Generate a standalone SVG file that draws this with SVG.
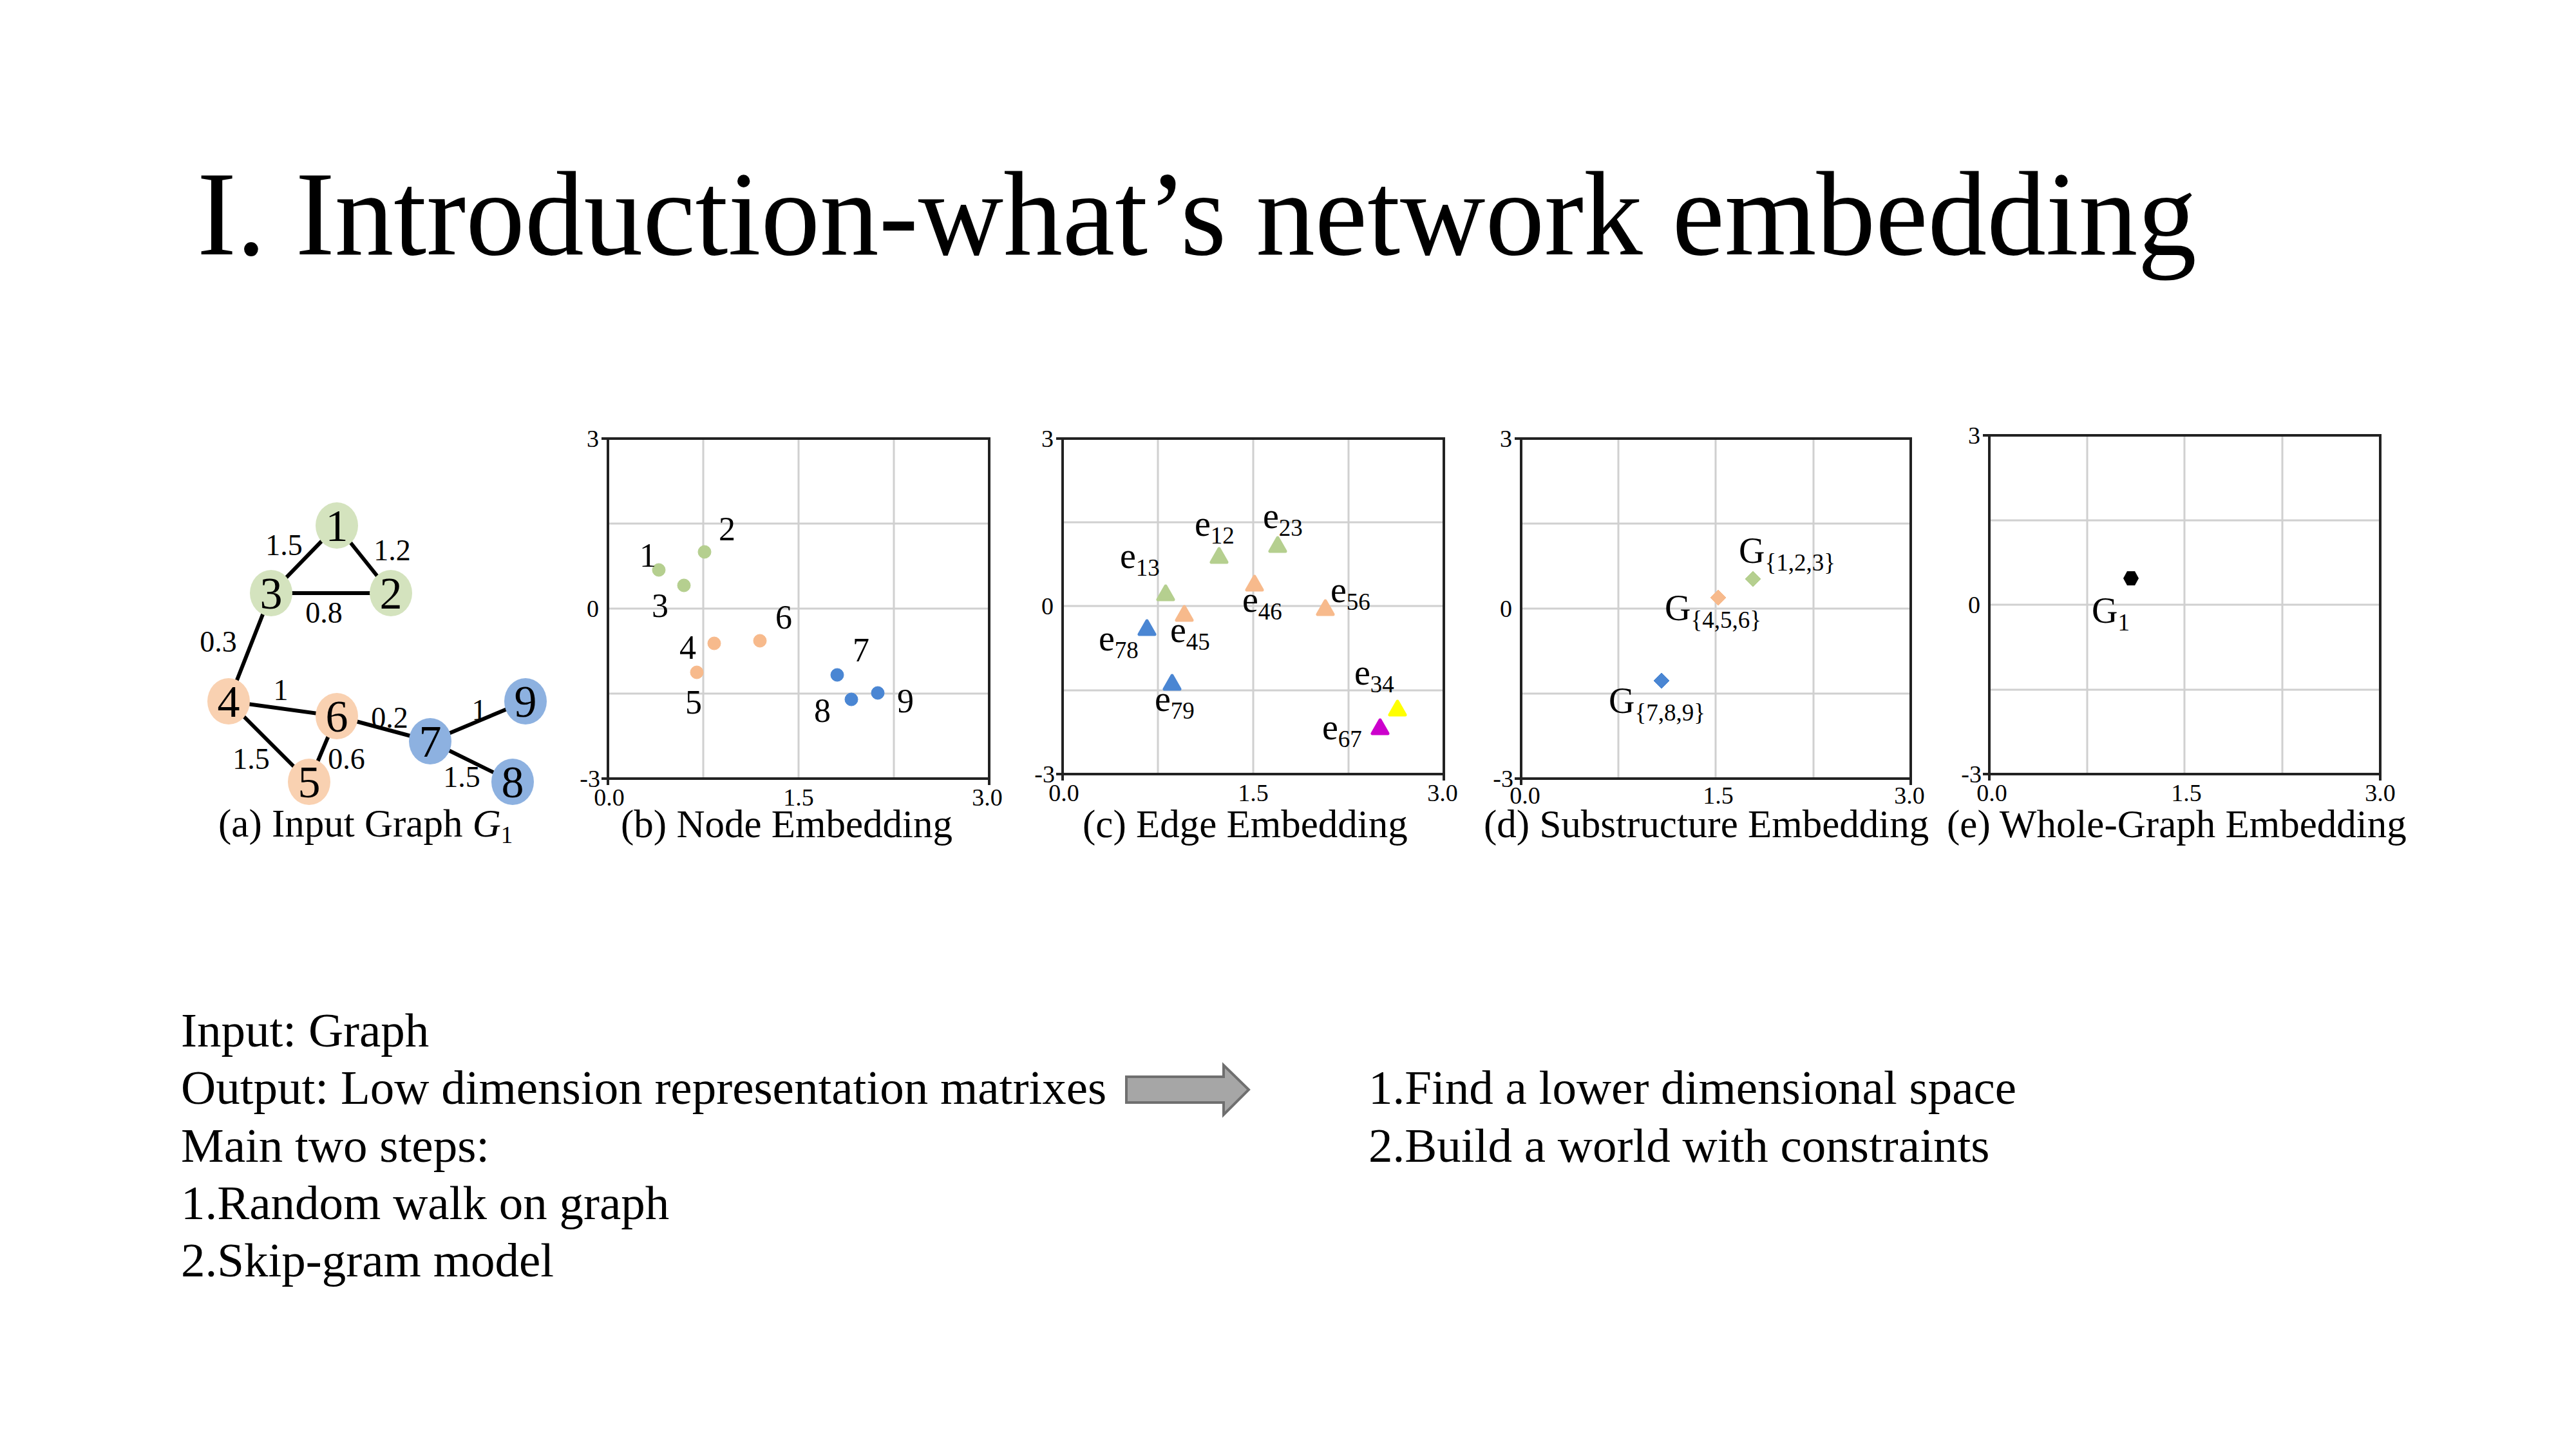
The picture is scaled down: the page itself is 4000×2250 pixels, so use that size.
<svg xmlns="http://www.w3.org/2000/svg" width="4000" height="2250" viewBox="0 0 4000 2250">
<style>
text{font-family:"Liberation Serif","Times New Roman",serif;fill:#000}
.title{font-size:186px}
.body{font-size:75px}
.cap{font-size:61px}
.tick{font-size:38px}
.tr{text-anchor:end}
.tm{text-anchor:middle}
.nl{font-size:70px;text-anchor:middle}
.el{font-size:46px;text-anchor:middle}
.pl{font-size:52px;text-anchor:middle}
.lab{font-size:56px}
.sub{font-size:37px}
.box{fill:#fff;stroke:#222;stroke-width:4}
.grid{stroke:#d0d0d0;stroke-width:3}
.edge{stroke:#000;stroke-width:6}
.ng{fill:#d4e3be}.no{fill:#f9d1b1}.nb{fill:#8db1e0}
.dg{fill:#b5cf8f;stroke:#b5cf8f}.do{fill:#f7ba8c;stroke:#f7ba8c}.db{fill:#4a86d3;stroke:#4a86d3}
.tri{stroke-width:5;stroke-linejoin:round}
</style>
<rect width="4000" height="2250" fill="#fff"/>
<text class="title" x="306" y="395" textLength="3105" lengthAdjust="spacingAndGlyphs">I. Introduction-what’s network embedding</text>

<g id="graph-a">
<g id="edges">
<line class="edge" x1="523" y1="816" x2="421" y2="921"/>
<line class="edge" x1="523" y1="816" x2="607" y2="921"/>
<line class="edge" x1="421" y1="921" x2="607" y2="921"/>
<line class="edge" x1="421" y1="921" x2="355" y2="1089"/>
<line class="edge" x1="355" y1="1089" x2="523" y2="1112"/>
<line class="edge" x1="355" y1="1089" x2="480" y2="1214"/>
<line class="edge" x1="523" y1="1112" x2="480" y2="1214"/>
<line class="edge" x1="523" y1="1112" x2="668" y2="1151"/>
<line class="edge" x1="668" y1="1151" x2="816" y2="1089"/>
<line class="edge" x1="668" y1="1151" x2="796" y2="1214"/>
</g>
<g id="n1"><ellipse class="ng" cx="523" cy="816" rx="33" ry="36"/><text class="nl" x="523" y="840">1</text></g>
<g id="n2"><ellipse class="ng" cx="607" cy="921" rx="33" ry="36"/><text class="nl" x="607" y="945">2</text></g>
<g id="n3"><ellipse class="ng" cx="421" cy="921" rx="33" ry="36"/><text class="nl" x="421" y="945">3</text></g>
<g id="n4"><ellipse class="no" cx="355" cy="1089" rx="33" ry="36"/><text class="nl" x="355" y="1113">4</text></g>
<g id="n5"><ellipse class="no" cx="480" cy="1214" rx="33" ry="36"/><text class="nl" x="480" y="1238">5</text></g>
<g id="n6"><ellipse class="no" cx="523" cy="1112" rx="33" ry="36"/><text class="nl" x="523" y="1136">6</text></g>
<g id="n7"><ellipse class="nb" cx="668" cy="1151" rx="33" ry="36"/><text class="nl" x="668" y="1175">7</text></g>
<g id="n8"><ellipse class="nb" cx="796" cy="1214" rx="33" ry="36"/><text class="nl" x="796" y="1238">8</text></g>
<g id="n9"><ellipse class="nb" cx="816" cy="1089" rx="33" ry="36"/><text class="nl" x="816" y="1113">9</text></g>
<g id="edge-labels">
<text class="el" x="441" y="862">1.5</text>
<text class="el" x="609" y="870">1.2</text>
<text class="el" x="503" y="967">0.8</text>
<text class="el" x="339" y="1012">0.3</text>
<text class="el" x="436" y="1087">1</text>
<text class="el" x="605" y="1130">0.2</text>
<text class="el" x="390" y="1194">1.5</text>
<text class="el" x="538" y="1194">0.6</text>
<text class="el" x="744" y="1118">1</text>
<text class="el" x="717" y="1222">1.5</text>
</g>
<text class="cap" x="339" y="1299">(a)  Input Graph <tspan font-style="italic">G</tspan><tspan class="sub" dy="10">1</tspan></text>
</g>

<g id="panel-b">
<rect class="box" x="944" y="681" width="592" height="528"/>
<line class="grid" x1="1092" y1="683" x2="1092" y2="1207"/><line class="grid" x1="1240" y1="683" x2="1240" y2="1207"/><line class="grid" x1="1388" y1="683" x2="1388" y2="1207"/>
<line class="grid" x1="946" y1="813" x2="1534" y2="813"/><line class="grid" x1="946" y1="945" x2="1534" y2="945"/><line class="grid" x1="946" y1="1077" x2="1534" y2="1077"/>
<rect class="box" x="944" y="681" width="592" height="528" style="fill:none"/>
<path d="M934 681h10M934 1209h10M944 1209v10M1536 1209v10" stroke="#222" stroke-width="4"/>
<text class="tick tr" x="930" y="694">3</text><text class="tick tr" x="930" y="958">0</text><text class="tick tr" x="932" y="1222">-3</text>
<text class="tick tm" x="946" y="1251">0.0</text><text class="tick tm" x="1240" y="1251">1.5</text><text class="tick tm" x="1533" y="1251">3.0</text>
<circle class="dg" cx="1023" cy="885" r="10"/><circle class="dg" cx="1094" cy="857" r="10"/><circle class="dg" cx="1062" cy="909" r="10"/>
<circle class="do" cx="1109" cy="999" r="10"/><circle class="do" cx="1180" cy="995" r="10"/><circle class="do" cx="1082" cy="1044" r="10"/>
<circle class="db" cx="1300" cy="1048" r="10"/><circle class="db" cx="1322" cy="1086" r="10"/><circle class="db" cx="1363" cy="1076" r="10"/>
<text class="pl" x="1006" y="880">1</text><text class="pl" x="1129" y="839">2</text><text class="pl" x="1025" y="958">3</text>
<text class="pl" x="1068" y="1023">4</text><text class="pl" x="1077" y="1108">5</text><text class="pl" x="1217" y="976">6</text>
<text class="pl" x="1337" y="1027">7</text><text class="pl" x="1277" y="1121">8</text><text class="pl" x="1406" y="1106">9</text>
<text class="cap" x="964" y="1300">(b)  Node Embedding</text>
</g>

<g id="panel-c">
<rect class="box" x="1650" y="681" width="592" height="521"/>
<line class="grid" x1="1798" y1="683" x2="1798" y2="1200"/><line class="grid" x1="1946" y1="683" x2="1946" y2="1200"/><line class="grid" x1="2094" y1="683" x2="2094" y2="1200"/>
<line class="grid" x1="1652" y1="811" x2="2240" y2="811"/><line class="grid" x1="1652" y1="941" x2="2240" y2="941"/><line class="grid" x1="1652" y1="1072" x2="2240" y2="1072"/>
<rect class="box" x="1650" y="681" width="592" height="521" style="fill:none"/>
<path d="M1640 681h10M1640 1202h10M1650 1202v10M2242 1202v10" stroke="#222" stroke-width="4"/>
<text class="tick tr" x="1636" y="694">3</text><text class="tick tr" x="1636" y="954">0</text><text class="tick tr" x="1638" y="1215">-3</text>
<text class="tick tm" x="1652" y="1244">0.0</text><text class="tick tm" x="1946" y="1244">1.5</text><text class="tick tm" x="2240" y="1244">3.0</text>
<polygon class="dg tri" points="1810,910 1798,931 1822,931"/>
<polygon class="dg tri" points="1893,852 1881,873 1905,873"/>
<polygon class="dg tri" points="1984,835 1972,856 1996,856"/>
<polygon class="do tri" points="1948,895 1936,916 1960,916"/>
<polygon class="do tri" points="1839,942 1827,963 1851,963"/>
<polygon class="do tri" points="2058,933 2046,954 2070,954"/>
<polygon class="db tri" points="1781,964 1769,985 1793,985"/>
<polygon class="db tri" points="1820,1049 1808,1070 1832,1070"/>
<polygon class="tri" fill="#ffff00" stroke="#ffff00" points="2170,1089 2158,1110 2182,1110"/>
<polygon class="tri" fill="#cc00cc" stroke="#cc00cc" points="2143,1118 2131,1139 2155,1139"/>
<text class="lab" x="1739" y="882">e<tspan class="sub" dy="12">13</tspan></text>
<text class="lab" x="1855" y="832">e<tspan class="sub" dy="12">12</tspan></text>
<text class="lab" x="1961" y="820">e<tspan class="sub" dy="12">23</tspan></text>
<text class="lab" x="1929" y="950">e<tspan class="sub" dy="12">46</tspan></text>
<text class="lab" x="1817" y="997">e<tspan class="sub" dy="12">45</tspan></text>
<text class="lab" x="2066" y="935">e<tspan class="sub" dy="12">56</tspan></text>
<text class="lab" x="1706" y="1010">e<tspan class="sub" dy="12">78</tspan></text>
<text class="lab" x="1793" y="1104">e<tspan class="sub" dy="12">79</tspan></text>
<text class="lab" x="2103" y="1063">e<tspan class="sub" dy="12">34</tspan></text>
<text class="lab" x="2053" y="1148">e<tspan class="sub" dy="12">67</tspan></text>
<text class="cap" x="1681" y="1300">(c)  Edge Embedding</text>
</g>

<g id="panel-d">
<rect class="box" x="2362" y="681" width="605" height="528"/>
<line class="grid" x1="2513" y1="683" x2="2513" y2="1207"/><line class="grid" x1="2664" y1="683" x2="2664" y2="1207"/><line class="grid" x1="2816" y1="683" x2="2816" y2="1207"/>
<line class="grid" x1="2364" y1="813" x2="2965" y2="813"/><line class="grid" x1="2364" y1="945" x2="2965" y2="945"/><line class="grid" x1="2364" y1="1077" x2="2965" y2="1077"/>
<rect class="box" x="2362" y="681" width="605" height="528" style="fill:none"/>
<path d="M2352 681h10M2352 1209h10M2362 1209v10M2967 1209v10" stroke="#222" stroke-width="4"/>
<text class="tick tr" x="2348" y="694">3</text><text class="tick tr" x="2348" y="958">0</text><text class="tick tr" x="2350" y="1222">-3</text>
<text class="tick tm" x="2368" y="1248">0.0</text><text class="tick tm" x="2668" y="1248">1.5</text><text class="tick tm" x="2965" y="1248">3.0</text>
<polygon class="dg" points="2722,887 2734,899 2722,911 2710,899"/>
<polygon class="do" points="2668,916 2680,928 2668,940 2656,928"/>
<polygon class="db" points="2580,1045 2592,1057 2580,1069 2568,1057"/>
<text class="lab" x="2700" y="874">G<tspan class="sub" dy="12">{1,2,3}</tspan></text>
<text class="lab" x="2585" y="963">G<tspan class="sub" dy="12">{4,5,6}</tspan></text>
<text class="lab" x="2498" y="1107">G<tspan class="sub" dy="12">{7,8,9}</tspan></text>
<text class="cap" x="2304" y="1300">(d) Substructure Embedding</text>
</g>

<g id="panel-e">
<rect class="box" x="3089" y="676" width="607" height="526"/>
<line class="grid" x1="3241" y1="678" x2="3241" y2="1200"/><line class="grid" x1="3392" y1="678" x2="3392" y2="1200"/><line class="grid" x1="3544" y1="678" x2="3544" y2="1200"/>
<line class="grid" x1="3091" y1="808" x2="3694" y2="808"/><line class="grid" x1="3091" y1="939" x2="3694" y2="939"/><line class="grid" x1="3091" y1="1071" x2="3694" y2="1071"/>
<rect class="box" x="3089" y="676" width="607" height="526" style="fill:none"/>
<path d="M3079 676h10M3079 1202h10M3089 1202v10M3696 1202v10" stroke="#222" stroke-width="4"/>
<text class="tick tr" x="3075" y="689">3</text><text class="tick tr" x="3075" y="952">0</text><text class="tick tr" x="3077" y="1215">-3</text>
<text class="tick tm" x="3093" y="1244">0.0</text><text class="tick tm" x="3395" y="1244">1.5</text><text class="tick tm" x="3696" y="1244">3.0</text>
<polygon fill="#000" points="3303,887 3315,887 3321,898 3315,909 3303,909 3297,898"/>
<text class="lab" x="3248" y="967">G<tspan class="sub" dy="12">1</tspan></text>
<text class="cap" x="3023" y="1300">(e) Whole-Graph Embedding</text>
</g>

<g id="text-left">
<text class="body" x="281" y="1625">Input: Graph</text>
<text class="body" x="281" y="1714">Output: Low dimension representation matrixes</text>
<text class="body" x="281" y="1804">Main two steps:</text>
<text class="body" x="281" y="1893">1.Random walk on graph</text>
<text class="body" x="281" y="1982">2.Skip-gram model</text>
</g>
<g id="arrow">
<polygon points="1749,1672 1900,1672 1900,1654 1939,1692 1900,1731 1900,1712 1749,1712" fill="#a6a6a6" stroke="#6f6f6f" stroke-width="4"/>
</g>
<g id="text-right">
<text class="body" x="2125" y="1714">1.Find a lower dimensional space</text>
<text class="body" x="2125" y="1804">2.Build a world with constraints</text>
</g>
</svg>
